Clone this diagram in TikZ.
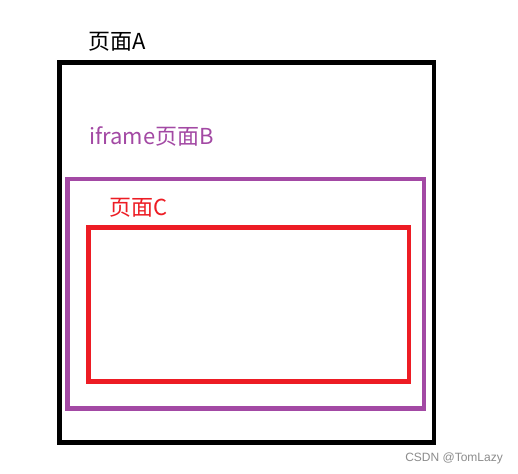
\documentclass[tikz,border=0pt]{standalone}
\usepackage{fontspec}
\newfontfamily\cjk{Noto Sans CJK SC}
\newfontfamily\wmfont{Liberation Sans}
\definecolor{pagepurple}{RGB}{163,73,164}
\definecolor{pagered}{RGB}{237,28,36}
\begin{document}
\begin{tikzpicture}[x=1pt,y=-1pt,
		frame/.style={line width=4.6pt},
		label/.style={font=\cjk\fontsize{22}{25}\selectfont, inner sep=0pt, anchor=base west}]
			\useasboundingbox [fill=white] (0,0) rectangle (518,473);
			\draw [frame] (59.5,62.5) rectangle (434,442.5);
			\draw [frame, pagepurple] (67.5,179) rectangle (424,408.5);
			\draw [frame, pagered] (88.5,227.5) rectangle (409,381.5);
			\node [label] (pageA) at (88,50) {页面A};
			\node [label, pagepurple] (pageB) at (89,144) {iframe页面B};
			\node [label, pagered] (pageC) at (109,215) {页面C};
			\node [font=\wmfont\fontsize{12}{14}\selectfont, text=black!45, inner sep=0pt, anchor=base east] (mark) at (503,461) {CSDN @TomLazy};
	 	\end{tikzpicture}
\end{document}
